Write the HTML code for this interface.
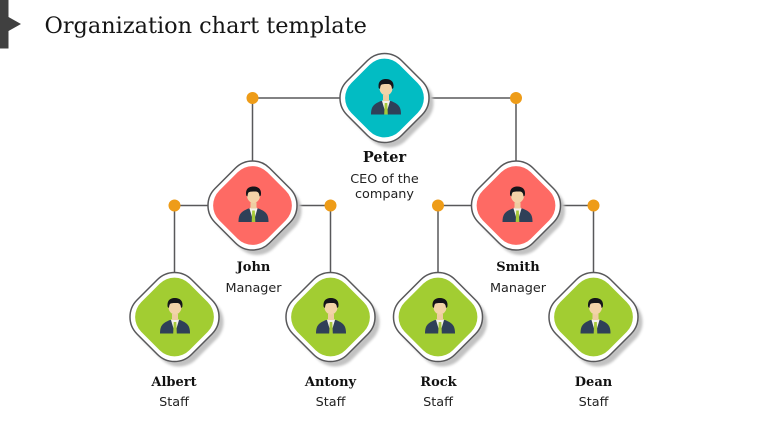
<!DOCTYPE html>
<html><head><meta charset="utf-8"><style>
html,body{margin:0;padding:0;background:#fff;width:768px;height:433px;overflow:hidden}
svg{display:block}
.n{font-family:"DejaVu Serif","Liberation Serif",serif;font-weight:bold;font-size:13px;fill:#111;text-anchor:middle}
.r{font-family:"DejaVu Sans","Liberation Sans",sans-serif;font-size:12.800px;fill:#222;text-anchor:middle}
</style></head><body>
<svg width="768" height="433" viewBox="0 0 768 433" xmlns="http://www.w3.org/2000/svg">
<defs>
<filter id="b" x="-20%" y="-20%" width="140%" height="140%"><feGaussianBlur stdDeviation="1.200"/></filter>
<g id="person">
<path d="M-15 16.500 C-15 8 -12 6 -5 3 L5 3 C12 6 15 8 15 16.500 Z" fill="#2f4058"/>
<path d="M-4 3 L0 16.500 L4 3 L2 1 L-2 1 Z" fill="#f4f1ea"/>
<path d="M-1.300 5 L1.300 5 L1.800 16.500 L-1.800 16.500 Z" fill="#a6c93a"/>
<rect x="-3" y="-3" width="6" height="6" fill="#eecda2"/>
<ellipse cx="0" cy="-10" rx="6.500" ry="7.500" fill="#f3d3a8"/>
<path d="M-7.300 -10 C-8.500 -18 -3 -19 0 -19 C5 -19 8.500 -16 7.300 -10 L6 -9 C5.800 -13 4 -14 2 -14 C-1 -14 -4 -14 -5 -13 C-5.700 -12 -6 -10 -6 -9 Z" fill="#15151a"/>
</g>
<g id="node">
<rect x="-38.500" y="-38.500" width="77" height="77" rx="24" transform="translate(4.500 5) rotate(45)" fill="#c2c2c2" filter="url(#b)"/>
<rect x="-38.500" y="-38.500" width="77" height="77" rx="24" transform="rotate(45)" fill="#fff" stroke="#58585a" stroke-width="1.500"/>
</g>
<rect id="inner" x="-34" y="-34" width="68" height="68" rx="21" transform="rotate(45)"/>
</defs>

<rect width="768" height="433" fill="#fff"/>
<path d="M0 0 H8.500 V17 L21 24 L8.500 31 V48.500 H0 Z" fill="#404040"/>
<text x="44.500" y="33" font-family="'DejaVu Serif','Liberation Serif',serif" font-size="22.400" fill="#151515">Organization chart template</text>

<g stroke="#58585a" stroke-width="1.500" fill="none">
<path d="M252.500 165 V98 H516 V165"/>
<path d="M174.500 277 V205.500 H330.500 V277"/>
<path d="M438 277 V205.500 H593.500 V277"/>
</g>
<g fill="#ee9c18">
<circle cx="252.500" cy="98" r="6"/><circle cx="516" cy="98" r="6"/>
<circle cx="174.500" cy="205.500" r="6"/><circle cx="330.500" cy="205.500" r="6"/>
<circle cx="438" cy="205.500" r="6"/><circle cx="593.500" cy="205.500" r="6"/>
</g>

<g transform="translate(384.500 98)"><use href="#node"/><use href="#inner" fill="#02bcc3"/><use href="#person" x="1.500" y="0"/></g>
<g transform="translate(252.500 205.500)"><use href="#node"/><use href="#inner" fill="#fe6a64"/><use href="#person" x="1" y="0"/></g>
<g transform="translate(516 205.500)"><use href="#node"/><use href="#inner" fill="#fe6a64"/><use href="#person" x="1.500" y="0"/></g>
<g transform="translate(174.500 317)"><use href="#node"/><use href="#inner" fill="#a2cd32"/><use href="#person" x="0.500" y="0"/></g>
<g transform="translate(330.500 317)"><use href="#node"/><use href="#inner" fill="#a2cd32"/><use href="#person" x="0.500" y="0"/></g>
<g transform="translate(438 317)"><use href="#node"/><use href="#inner" fill="#a2cd32"/><use href="#person" x="2" y="0"/></g>
<g transform="translate(593.500 317)"><use href="#node"/><use href="#inner" fill="#a2cd32"/><use href="#person" x="2" y="0"/></g>

<text class="n" x="384.500" y="162" style="font-size:14.500px">Peter</text>
<text class="r" x="384.500" y="183">CEO of the</text>
<text class="r" x="384.500" y="198">company</text>
<text class="n" x="253.500" y="271">John</text>
<text class="r" x="253.500" y="292">Manager</text>
<text class="n" x="518" y="271">Smith</text>
<text class="r" x="518" y="292">Manager</text>
<text class="n" x="174" y="386">Albert</text>
<text class="r" x="174" y="406">Staff</text>
<text class="n" x="330.500" y="386">Antony</text>
<text class="r" x="330.500" y="406">Staff</text>
<text class="n" x="438.500" y="386">Rock</text>
<text class="r" x="438" y="406">Staff</text>
<text class="n" x="593.500" y="386">Dean</text>
<text class="r" x="593.500" y="406">Staff</text>
</svg>
</body></html>
